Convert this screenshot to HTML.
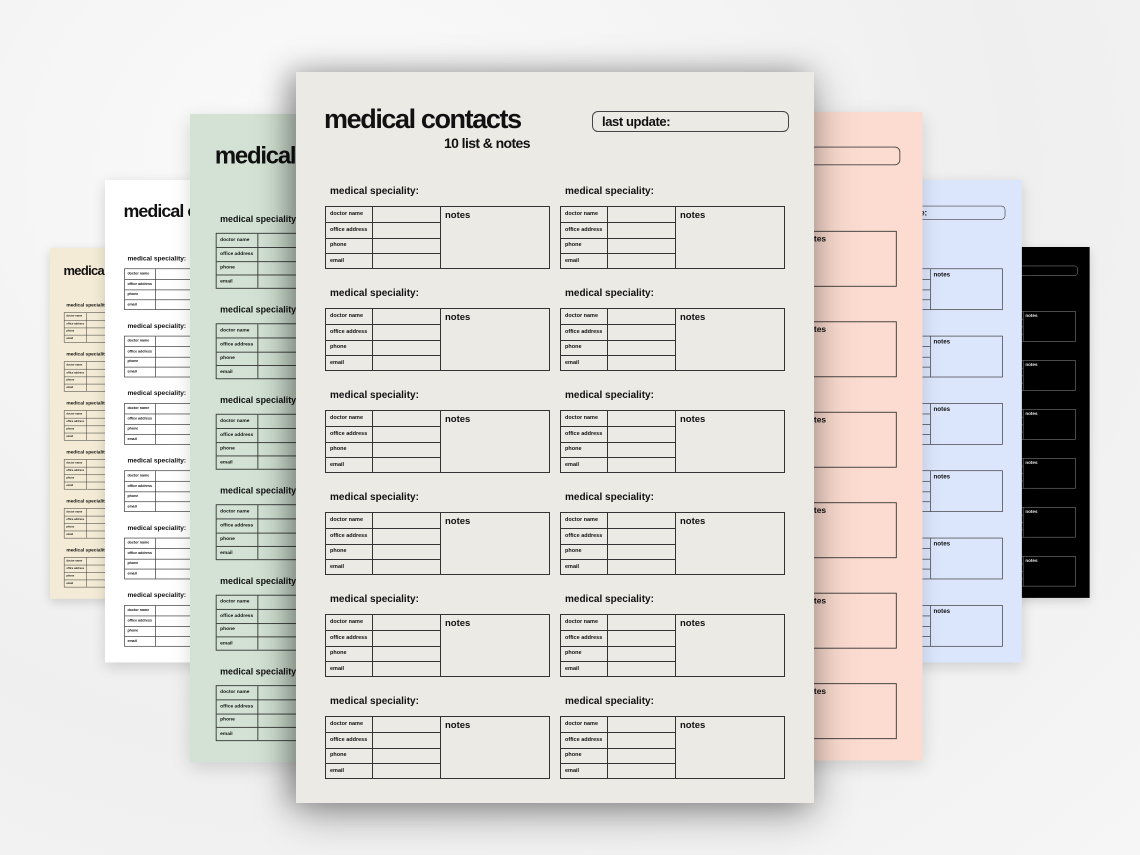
<!DOCTYPE html>
<html><head><meta charset="utf-8">
<style>
html,body{margin:0;padding:0}
body{width:1140px;height:855px;overflow:hidden;position:relative;font-family:"Liberation Sans",sans-serif;
background:radial-gradient(ellipse at 30% 20%,#fbfbfb,#efefef 60%,#f6f6f6);}
.page{position:absolute;width:518px;height:731px;transform-origin:0 0;overflow:hidden;color:#111}
.title{position:absolute;left:28px;top:32px;font-size:27px;font-weight:bold;letter-spacing:-1.4px;white-space:nowrap}
.sub{position:absolute;left:148px;top:63px;font-size:14px;font-weight:bold;letter-spacing:-0.6px;white-space:nowrap}
.upd{position:absolute;left:296px;top:39px;width:195px;height:19px;border:1px solid #444;border-radius:6px}
.upd span{position:absolute;left:9px;top:2px;font-size:13px;font-weight:bold;letter-spacing:-0.4px}
.lab{position:absolute;font-size:10px;font-weight:bold;white-space:nowrap}
.box{position:absolute;width:225px;height:63px;border:1px solid #333;box-sizing:border-box}
.row{position:absolute;left:0;width:114px;height:16px;border-bottom:1px solid #333;box-sizing:border-box}
.row b{position:absolute;left:4px;top:4px;font-size:5.5px}
.vl{position:absolute;top:0;bottom:0;border-left:1px solid #333}
.nt{position:absolute;left:119px;top:3px;font-size:9.5px;font-weight:bold}
.dark{color:#eee}
.dark .upd,.dark .box,.dark .row,.dark .vl{border-color:#999}
</style></head><body>
<div id="wrap"></div>
<script>
const pages=[
 {name:'yellow-page',x:50,y:248,s:0.48,bg:'#f3ebd5'},
 {name:'black-page',x:841,y:247,s:0.48,bg:'#000',dark:true},
 {name:'white-page',x:105,y:180,s:0.66,bg:'#ffffff'},
 {name:'blue-page',x:680,y:180,s:0.66,bg:'#dbe5fb'},
 {name:'green-page',x:190,y:114,s:0.887,bg:'#d3e2d4'},
 {name:'peach-page',x:463,y:112,s:0.887,bg:'#fcdcd0'},
 {name:'main-page',x:296,y:72,s:1,bg:'#ebeae5',main:true}
];
const rows=['doctor name','office address','phone','email'];
const wrap=document.getElementById('wrap');
pages.forEach(p=>{
 const d=document.createElement('div');
 d.className='page'+(p.dark?' dark':'');
 
 
 d.style.left=p.x+'px';d.style.top=p.y+'px';d.style.background=p.bg;
 d.style.transform='scale('+p.s+')';
 d.style.boxShadow=p.main?'0 10px 40px rgba(0,0,0,0.35), -8px 0 25px rgba(0,0,0,0.25)':'0 6px 20px rgba(0,0,0,0.15)';
 let h='<div class="title">medical contacts</div>'+
 '<div class="sub">10 list &amp; notes</div>'+
 '<div class="upd"><span>last update:</span></div>';
 for(let r=0;r<6;r++){for(let c=0;c<2;c++){
  const bx=c?264:29, ly=114+r*102, by=134+r*102;
  h+='<div class="lab" style="left:'+(bx+5)+'px;top:'+ly+'px">medical speciality:</div>';
  h+='<div class="box" style="left:'+bx+'px;top:'+by+'px">';
  rows.forEach((t,i)=>{h+='<div class="row" style="top:'+(i*15.5)+'px;'+(i==3?'border-bottom:none':'')+'"><b>'+t+'</b></div>';});
  h+='<div class="vl" style="left:46px"></div><div class="vl" style="left:114px"></div><div class="nt">notes</div></div>';
 }}
 d.innerHTML=h;
 wrap.appendChild(d);
});
</script>
</body></html>
